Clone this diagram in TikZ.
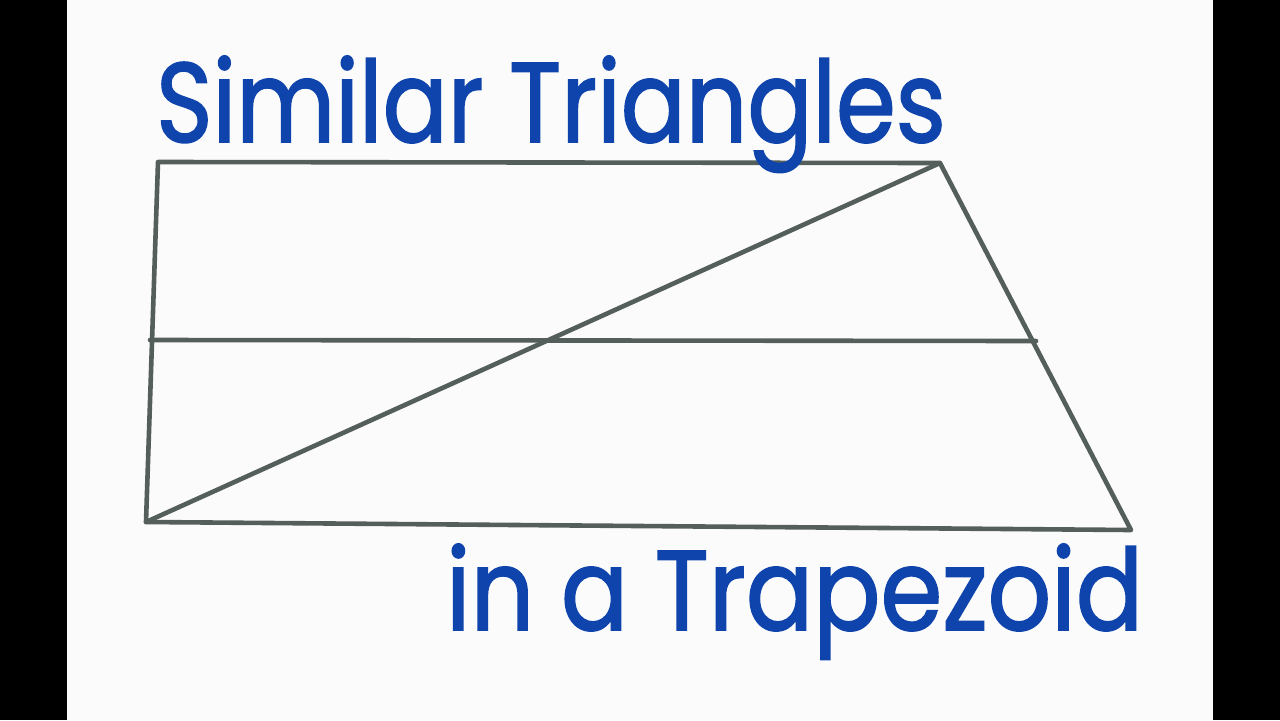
\documentclass[tikz,border=0pt]{standalone}
\usepackage{fontspec}
\newfontfamily\titlefont[FakeBold=1.6]{Poppins}
\usetikzlibrary{positioning}
\definecolor{titleblue}{RGB}{14,68,172}
\definecolor{pencil}{RGB}{84,94,90}
\definecolor{paper}{RGB}{251,251,251}

\begin{document}
\begin{tikzpicture}[
  x=0.05cm, y=-0.05cm,
  pencil line/.style={draw=pencil, line width=0.23cm, line cap=round, line join=round},
  title/.style={text=titleblue, anchor=base west, inner sep=0pt,
    font=\titlefont\fontsize{161}{161}\selectfont},
]
% page and dark bars
\fill[black] (0,0) rectangle (1280,720);
\fill[paper] (67,0) rectangle (1213,720);
\useasboundingbox (0,0) rectangle (1280,720);

% corners of the trapezoid
\coordinate (tl) at (158,162);
\coordinate (tr) at (940,163);
\coordinate (br) at (1131,530);
\coordinate (bl) at (146,522);
\coordinate (ml) at (150,340);
\coordinate (mr) at (1036,341);

\draw[pencil line] (tl) -- (tr) -- (br) -- (bl) -- cycle;
\draw[pencil line] (bl) -- (tr);
\draw[pencil line] (ml) -- (mr);

% titles
\node[title, xscale=0.85] (top) at (156,142) {Similar Triangles};
\node[title, xscale=0.88] (bottom) at (446,630) {in a Trapezoid};
\end{tikzpicture}
\end{document}
